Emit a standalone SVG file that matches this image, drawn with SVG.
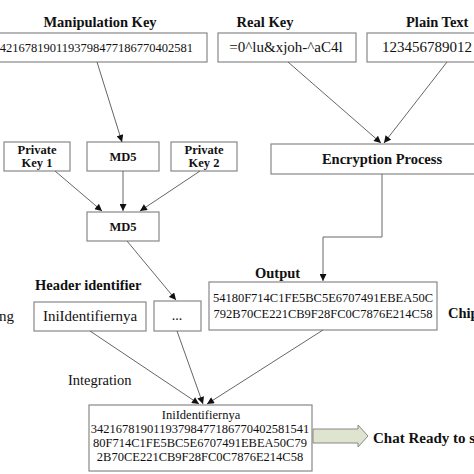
<svg xmlns="http://www.w3.org/2000/svg" width="474" height="474" viewBox="0 0 474 474">
<defs>
<marker id="ah" viewBox="0 0 10 10" refX="10" refY="5" markerWidth="8" markerHeight="7" markerUnits="userSpaceOnUse" orient="auto">
<path d="M0,0 L10,5 L0,10 Z" fill="#111"/>
</marker>
</defs>
<style>
text{font-family:"Liberation Serif","Times New Roman",serif;fill:#111}
.lb{font-weight:bold;font-size:14.5px}
.bb{font-weight:bold;font-size:12.5px}
.t{font-size:12.5px}
.m{font-size:15px}
.c{text-anchor:middle}
rect{fill:#fff;stroke:#888;stroke-width:1.2}
.con line,.con polyline{stroke:#666;stroke-width:1;fill:none}
</style>
<rect x="0" y="0" width="474" height="474" style="fill:#fff;stroke:none"/>
<g id="manip">
<text class="lb c" x="100" y="27">Manipulation Key</text>
<rect x="-5" y="33" width="212" height="29"/>
<text class="t" x="193" y="52" text-anchor="end">34216781901193798477186770402581</text>
</g>
<g id="realkey">
<text class="lb c" x="265" y="27">Real Key</text>
<rect x="218" y="33" width="138" height="29"/>
<text class="m c" x="286" y="52">=0^lu&amp;xjoh-^aC4l</text>
</g>
<g id="plain">
<text class="lb" x="406" y="27">Plain Text</text>
<rect x="367" y="33" width="120" height="29"/>
<text class="m" x="382" y="52">123456789012</text>
</g>
<g id="pk1">
<rect x="4" y="142" width="66" height="29"/>
<text class="bb c" x="37" y="154">Private</text>
<text class="bb c" x="37" y="167">Key 1</text>
</g>
<g id="md5a">
<rect x="87" y="142" width="72" height="29"/>
<text class="bb c" x="123" y="161">MD5</text>
</g>
<g id="pk2">
<rect x="171" y="142" width="66" height="29"/>
<text class="bb c" x="204" y="154">Private</text>
<text class="bb c" x="204" y="167">Key 2</text>
</g>
<g id="md5b">
<rect x="87" y="212" width="72" height="29"/>
<text class="bb c" x="123" y="231">MD5</text>
</g>
<g id="enc">
<rect x="271" y="144" width="210" height="30"/>
<text class="lb c" x="382" y="164">Encryption Process</text>
</g>
<g id="output">
<text class="lb" x="255" y="278">Output</text>
<rect x="209" y="282" width="228" height="48"/>
<text class="t c" x="323" y="302">54180F714C1FE5BC5E6707491EBEA50C</text>
<text class="t c" x="323" y="318">792B70CE221CB9F28FC0C7876E214C58</text>
</g>
<g id="chip">
<text class="lb" x="448" y="318">Chip</text>
</g>
<g id="ng">
<text class="m" x="-1" y="321">ng</text>
</g>
<g id="header">
<text class="lb" x="35" y="290">Header identifier</text>
<rect x="34" y="302" width="112" height="29"/>
<text class="m c" x="90" y="321">IniIdentifiernya</text>
</g>
<g id="dots">
<rect x="154" y="301" width="47" height="30"/>
<text class="c" x="177" y="320" style="font-size:14px">...</text>
</g>
<g id="integration">
<text x="68" y="385" style="font-size:14.5px">Integration</text>
</g>
<g id="result">
<rect x="89" y="405" width="223" height="66"/>
<text class="t c" x="201" y="419">IniIdentifiernya</text>
<text class="t c" x="200" y="433">34216781901193798477186770402581541</text>
<text class="t c" x="200" y="447">80F714C1FE5BC5E6707491EBEA50C79</text>
<text class="t c" x="200" y="461">2B70CE221CB9F28FC0C7876E214C58</text>
</g>
<g id="ready">
<polygon points="313,429 358,429 358,425 368,436 358,447 358,443 313,443" style="fill:#dfe4d0;stroke:#888;stroke-width:1"/>
<text x="373" y="443" style="font-weight:bold;font-size:15px">Chat Ready to s</text>
</g>
<g id="connectors" class="con">
<line x1="97" y1="62" x2="122" y2="142" marker-end="url(#ah)"/>
<line x1="55" y1="171" x2="102" y2="211" marker-end="url(#ah)"/>
<line x1="123" y1="171" x2="123" y2="211" marker-end="url(#ah)"/>
<line x1="200" y1="171" x2="140" y2="211" marker-end="url(#ah)"/>
<line x1="127" y1="241" x2="176" y2="300" marker-end="url(#ah)"/>
<line x1="288" y1="62" x2="381" y2="143" marker-end="url(#ah)"/>
<line x1="447" y1="62" x2="384" y2="143" marker-end="url(#ah)"/>
<polyline points="382,174 382,237 323,237 323,281" marker-end="url(#ah)"/>
<line x1="90" y1="331" x2="199" y2="404" marker-end="url(#ah)"/>
<line x1="177" y1="331" x2="203" y2="404" marker-end="url(#ah)"/>
<line x1="323" y1="330" x2="207" y2="404" marker-end="url(#ah)"/>
</g>
</svg>
